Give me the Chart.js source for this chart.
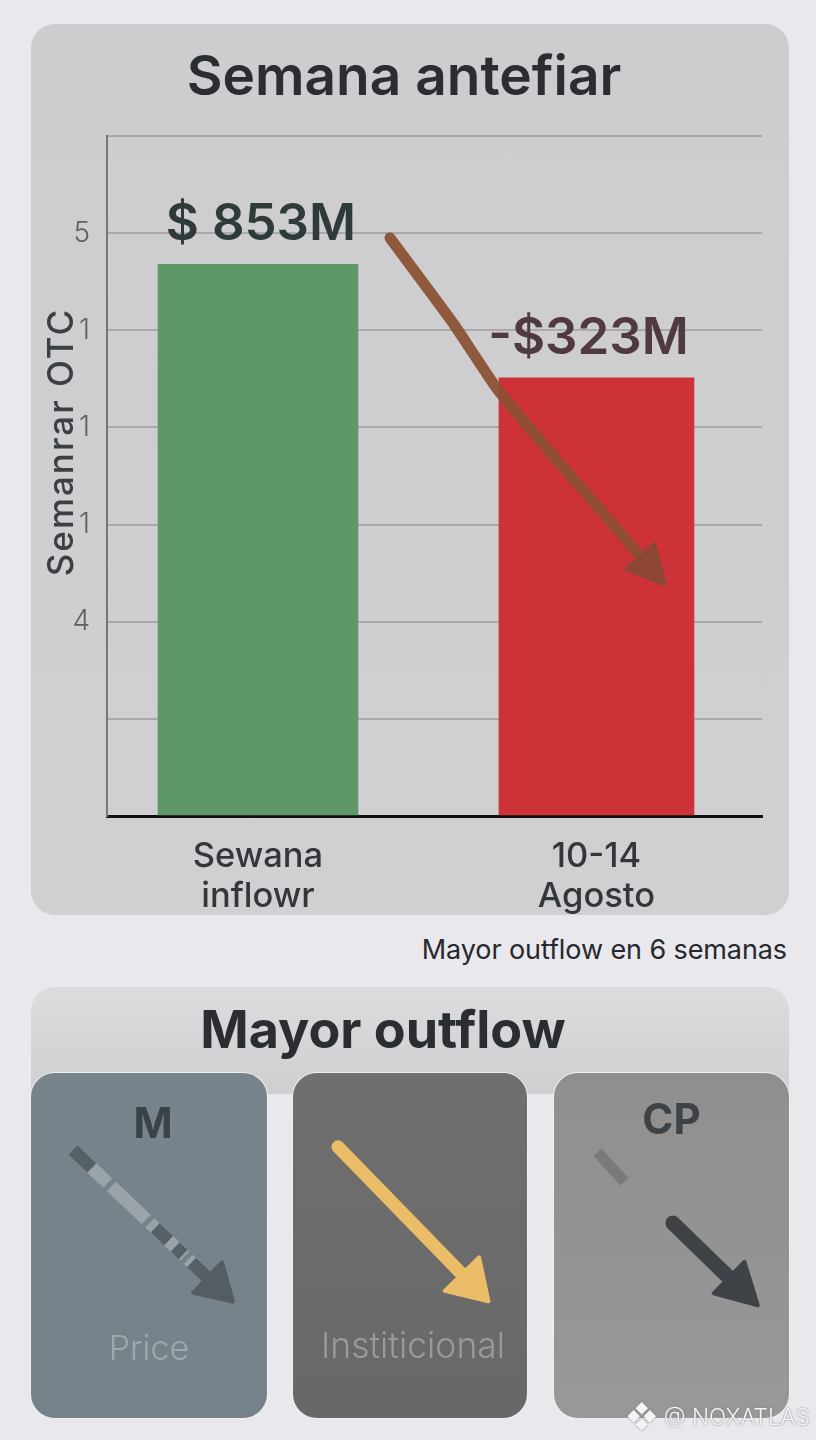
<!DOCTYPE html>
<html lang="es">
<head>
<meta charset="utf-8">
<title>Semana antefiar</title>
<script src="https://cdn.jsdelivr.net/npm/chart.js@4"></script>
<style>
  html, body { margin: 0; padding: 0; }
  body { width: 816px; height: 1440px; position: relative; overflow: hidden; background: #e9e8ec; font-family: Inter, sans-serif; }
  .abs { position: absolute; }
  #panelTop { left: 31px; top: 24px; width: 758px; height: 891px; border-radius: 24px; background: linear-gradient(#cdcdd0, #d0d0d3); }
  #panelBottom { left: 31px; top: 987px; width: 758px; height: 107px; border-radius: 24px 24px 0 0; background: linear-gradient(#dcdcdf, #cfcfd2); }
  #mainChart { left: 0; top: 0; }
  #note { right: 29px; top: 933px; font-size: 27px; letter-spacing: -0.1px; color: #26282c; white-space: nowrap; }
  #title2 { left: 0; width: 766px; top: 998px; text-align: center; font-size: 52px; font-weight: 700; color: #2a2d31; }
  .card { top: 1073px; height: 345px; border-radius: 24px; box-shadow: 0 0 0 1px #f1f1f3; overflow: hidden; }
  .card canvas { position: absolute; left: 0; top: 0; }
  .card .head { position: absolute; left: 0; width: 100%; top: 20px; text-align: center; font-size: 42px; font-weight: 700; color: #3d4246; }
  .card .foot { position: absolute; left: 0; width: 100%; top: 254px; text-align: center; font-size: 34px; font-weight: 300; }
  #cardM { left: 31px; width: 236px; background: linear-gradient(#78848b, #75828a); }
  #cardI { left: 293px; width: 234px; background: linear-gradient(#6f6f6f, #686868); }
  #cardC { left: 554px; width: 235px; background: linear-gradient(#8f8f8f, #989898); }
  #mark { right: 6px; top: 1398px; font-size: 22.5px; font-weight: 300; color: #f4f4f6; white-space: nowrap; text-shadow: 0 0 2px #77777c; }
  #mark span { font-size: 30px; vertical-align: -2px; }
</style>
</head>
<body>
<div class="abs" id="panelTop"></div>
<canvas class="abs" id="mainChart" width="808" height="916"></canvas>
<div class="abs" id="note">Mayor outflow en 6 semanas</div>

<div class="abs" id="panelBottom"></div>
<div class="abs" id="title2">Mayor outflow</div>
<div class="abs card" id="cardM">
  <canvas id="arrowM" width="236" height="345"></canvas>
  <div class="head" style="top:24px;left:4px">M</div><div class="foot" style="color:#9fa8ac">Price</div>
</div>
<div class="abs card" id="cardI">
  <canvas id="arrowI" width="234" height="345"></canvas>
  <div class="foot" style="color:#9a9a9a;font-size:35.5px;left:3px;top:251px">Institicional</div>
</div>
<div class="abs card" id="cardC">
  <canvas id="arrowC" width="235" height="345"></canvas>
  <div class="head">CP</div>
</div>
<div class="abs" id="mark"><span>&#10070;</span> @ NOXATLAS</div>

<script>
// Chart values
var categories = [["Sewana", "inflowr"], ["10-14", "Agosto"]];
var categoryIndex = [1, 2];
var barValues = [5.68, 4.51];
var barTexts = ["$ 853M", "-$323M"];
var yTickLabels = ["", "", "4", "1", "1", "1", "5", ""];

// Trend arrow over the bars, in axis units
var trendX = [1.390, 1.576, 1.709, 1.883, 2.019, 2.130];
var trendY = [5.95, 5.075, 4.385, 3.665, 3.119, 2.671];

// Arrows of the three cards, in percent of the card
var priceLightX = [17.8, 74.8];
var priceLightY = [77.7, 40.7];
var priceDarkX = [17.8, 25.8, null, 52.6, 58.3, null, 61.1, 64.5, null, 68, 74.8];
var priceDarkY = [77.7, 72.5, null, 55.1, 51.4, null, 49.6, 47.4, null, 45.1, 40.7];
var instX = [19.2, 72.2];
var instY = [78.6, 41.7];
var stubX = [18.5, 30];
var stubY = [77, 68.5];
var cpX = [50.6, 74.5];
var cpY = [56.5, 40.7];

function points(xs, ys) {
  return xs.map(function (x, i) {
    return { x: x, y: ys[i] };
  });
}

// Draws a filled head past the last point of any dataset with "head" set
var arrowHeads = {
  id: "arrowHeads",
  afterDatasetsDraw: function (chart) {
    var ctx = chart.ctx;
    chart.data.datasets.forEach(function (ds, i) {
      if (!ds.head) return;
      var pts = chart.getDatasetMeta(i).data;
      var a = pts[pts.length - 2];
      var b = pts[pts.length - 1];
      var ang = Math.atan2(b.y - a.y, b.x - a.x);
      var cos = Math.cos(ang);
      var sin = Math.sin(ang);
      ctx.save();
      ctx.fillStyle = ds.head.color;
      ctx.strokeStyle = ds.head.color;
      ctx.lineWidth = 4;
      ctx.lineJoin = "round";
      ctx.beginPath();
      ctx.moveTo(b.x + cos * ds.head.length, b.y + sin * ds.head.length);
      ctx.lineTo(b.x - sin * ds.head.width / 2, b.y + cos * ds.head.width / 2);
      ctx.lineTo(b.x + sin * ds.head.width / 2, b.y - cos * ds.head.width / 2);
      ctx.closePath();
      ctx.fill();
      ctx.stroke();
      ctx.restore();
    });
  }
};

// Big value labels above the bars and the vertical axis name
var barLabels = {
  id: "barLabels",
  afterDraw: function (chart) {
    var ctx = chart.ctx;
    var colors = ["#2f3a3a", "#4f3a40"];
    var shift = [3, -8];
    ctx.save();
    ctx.font = "600 51px Inter";
    ctx.textAlign = "center";
    ctx.textBaseline = "alphabetic";
    barTexts.forEach(function (text, i) {
      var bar = chart.getDatasetMeta(i + 1).data[0];
      ctx.fillStyle = colors[i];
      ctx.fillText(text, bar.x + shift[i], bar.y - 24);
    });
    ctx.translate(61, 442);
    ctx.rotate(-Math.PI / 2);
    ctx.font = "500 35px Inter";
    ctx.letterSpacing = "2px";
    ctx.fillStyle = "#3b4044";
    ctx.fillText("Semanrar OTC", 0, 12);
    ctx.restore();
  }
};

var myChart = document.getElementById("mainChart").getContext("2d");
var chart = new Chart(myChart, {
  type: "bar",
  plugins: [arrowHeads, barLabels],
  data: {
    datasets: [
      {
        type: "line",
        data: points(trendX, trendY),
        order: 0,
        borderColor: "rgba(138, 80, 50, 0.93)",
        borderWidth: 11,
        borderCapStyle: "round",
        borderJoinStyle: "round",
        tension: 0.15,
        pointRadius: 0,
        head: { length: 37, width: 37, color: "rgba(138, 72, 52, 0.95)" }
      },
      {
        data: [{ x: categoryIndex[0], y: barValues[0] }],
        order: 1,
        backgroundColor: "#5d9866",
        barThickness: 200,
        grouped: false
      },
      {
        data: [{ x: categoryIndex[1], y: barValues[1] }],
        order: 1,
        backgroundColor: "#cc3238",
        barThickness: 195,
        grouped: false
      }
    ]
  },
  options: {
    responsive: false,
    animation: false,
    layout: { padding: { left: 46, right: 46 } },
    plugins: {
      legend: { display: false },
      tooltip: { enabled: false },
      title: {
        display: true,
        text: "Semana antefiar",
        color: "#2a2d31",
        font: { family: "Inter", size: 55, weight: "600" },
        padding: { top: 45, bottom: 25 }
      }
    },
    scales: {
      x: {
        type: "linear",
        offset: false,
        min: 0.554,
        max: 2.489,
        afterBuildTicks: function (scale) {
          scale.ticks = categoryIndex.map(function (v) {
            return { value: v };
          });
        },
        afterFit: function (scale) {
          scale.height = 100;
        },
        grid: { display: false },
        border: { color: "#111111", width: 3 },
        ticks: {
          autoSkip: false,
          maxRotation: 0,
          padding: 13,
          color: "#33373b",
          font: { family: "Inter", size: 34.5, weight: "500", lineHeight: 1.16 },
          callback: function (value, index) {
            return categories[index];
          }
        }
      },
      y: {
        min: 0,
        max: 7,
        afterFit: function (scale) {
          scale.width = 61;
        },
        grid: { color: "#a9a9ad", lineWidth: 2, drawTicks: false },
        border: { color: "#77787c", width: 2 },
        ticks: {
          stepSize: 1,
          padding: 17,
          color: "#5d6165",
          font: { family: "Inter", size: 28, weight: "300" },
          callback: function (value, index) {
            return yTickLabels[index];
          }
        }
      }
    }
  }
});

// One small line chart for the arrow of each card
function arrowChart(id, datasets) {
  return new Chart(document.getElementById(id).getContext("2d"), {
    type: "line",
    plugins: [arrowHeads],
    data: { datasets: datasets },
    options: {
      responsive: false,
      animation: false,
      plugins: { legend: { display: false }, tooltip: { enabled: false } },
      scales: {
        x: { type: "linear", display: false, min: 0, max: 100 },
        y: { display: false, min: 0, max: 100 }
      }
    }
  });
}

// first dataset is painted last, so the dark pieces go first
arrowChart("arrowM", [
  {
    data: points(priceDarkX, priceDarkY),
    borderColor: "#576065",
    borderWidth: 13,
    pointRadius: 0,
    spanGaps: false,
    head: { length: 35, width: 42, color: "#555d62" }
  },
  {
    data: points(priceLightX, priceLightY),
    borderColor: "#9aa4a8",
    borderWidth: 13,
    borderDash: [48, 5],
    pointRadius: 0
  }
]);

arrowChart("arrowI", [
  {
    data: points(instX, instY),
    borderColor: "#ecbd68",
    borderWidth: 13,
    borderCapStyle: "round",
    pointRadius: 0,
    head: { length: 38, width: 48, color: "#ecbd68" }
  }
]);

arrowChart("arrowC", [
  {
    data: points(cpX, cpY),
    borderColor: "#3f4246",
    borderWidth: 15,
    borderCapStyle: "round",
    pointRadius: 0,
    head: { length: 40, width: 44, color: "#3f4246" }
  },
  {
    data: points(stubX, stubY),
    borderColor: "#7a7a7a",
    borderWidth: 11,
    pointRadius: 0
  }
]);
</script>
</body>
</html>
